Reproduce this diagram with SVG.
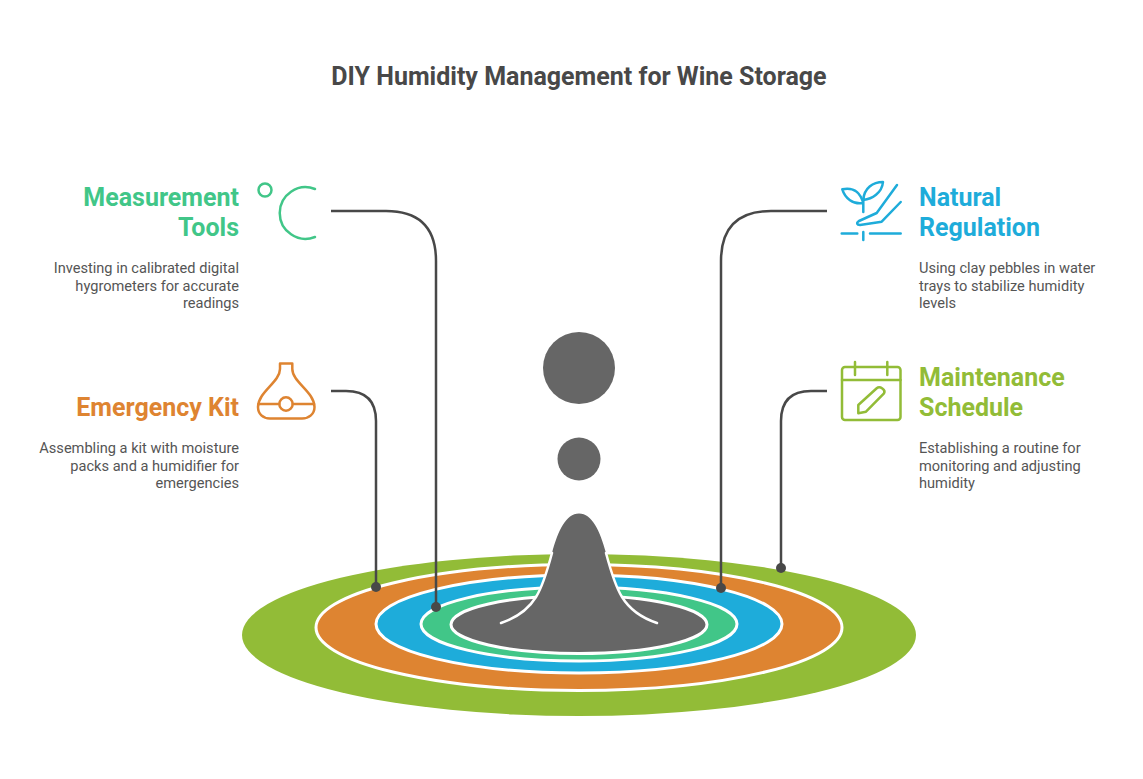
<svg xmlns="http://www.w3.org/2000/svg" width="1143" height="779" viewBox="0 0 1143 779">
<style>
text{font-family:Roboto,"Liberation Sans",sans-serif}
.t{font-size:25px;font-weight:700;fill:#484848}
.h{font-size:25px;font-weight:700}
.b{font-size:14.600px;fill:#555}
.e{text-anchor:end}
.c{fill:none;stroke:#484848;stroke-width:2.5}
.d{fill:#484848}
.i{fill:none;stroke-width:2.5;stroke-linecap:round;stroke-linejoin:round}
.r{stroke:#fff;stroke-width:3}
</style>
<rect width="1143" height="779" fill="#fff"/>
<text class="t" x="579" y="85" text-anchor="middle">DIY Humidity Management for Wine Storage</text>
<g id="rings">
<ellipse cx="579" cy="635" rx="337" ry="81" fill="#92bc37"/>
<ellipse class="r" cx="579" cy="627.500" rx="263" ry="63" fill="#de8431"/>
<ellipse class="r" cx="579" cy="624" rx="203" ry="49" fill="#1eacda"/>
<ellipse class="r" cx="579" cy="624" rx="158" ry="37" fill="#41c688"/>
<ellipse class="r" cx="579" cy="624.500" rx="128" ry="29" fill="#666"/>
</g>
<g id="drop">
<circle cx="579" cy="368" r="36" fill="#666"/>
<circle cx="579" cy="459" r="21.500" fill="#666"/>
<path d="M501 623C516 618 528 610 536 597C543 586 548 568 552 553C558 531 566 513.500 579 513.500C592 513.500 600 531 606 553C610 568 615 586 622 597C630 610 642 618 657 623Z" fill="#666"/>
<path d="M501 623C516 618 528 610 536 597C543 586 548 568 552 553M606 553C610 568 615 586 622 597C630 610 642 618 657 623" fill="none" stroke="#fff" stroke-width="2.500" stroke-linecap="round"/>
</g>
<g id="connectors">
<path class="c" d="M331 211H386Q436 211 436 261V607"/>
<circle class="d" cx="436" cy="607" r="5"/>
<path class="c" d="M827 211H771Q721 211 721 261V588"/>
<circle class="d" cx="721" cy="588" r="5"/>
<path class="c" d="M331 391H346Q376 391 376 421V587"/>
<circle class="d" cx="376" cy="587" r="5"/>
<path class="c" d="M827 391H811Q781 391 781 421V568"/>
<circle class="d" cx="781" cy="568" r="5"/>
</g>
<g id="measurement-tools">
<text class="h e" x="239" y="205.500" fill="#41c688">Measurement</text>
<text class="h e" x="239" y="235.500" fill="#41c688">Tools</text>
<text class="b e" x="239" y="273">Investing in calibrated digital</text>
<text class="b e" x="239" y="291">hygrometers for accurate</text>
<text class="b e" x="239" y="308">readings</text>
<g class="i" stroke="#41c688"><circle cx="265" cy="190" r="6.500"/><path d="M315 189A25.800 25.800 0 1 0 315 237"/></g>
</g>
<g id="natural-regulation">
<text class="h" x="919" y="205.500" fill="#1eacda">Natural</text>
<text class="h" x="919" y="235.500" fill="#1eacda">Regulation</text>
<text class="b" x="919" y="273">Using clay pebbles in water</text>
<text class="b" x="919" y="291">trays to stabilize humidity</text>
<text class="b" x="919" y="308">levels</text>
<g class="i" stroke="#1eacda">
<path d="M863.300 212V200M863.300 203C860 192 854 187 842.300 189.300C845 198 853 205 863.300 203"/>
<path d="M863.300 200C872 199 882 193 883 182C873 182 864 188 863.300 200"/>
<path d="M897 185L876.700 213L859 221C856 223 857 225 860 225L881.700 221.700L900.700 202"/>
<path d="M841.700 233.500H857.300M870 233.500H900.700M863.300 232V240"/>
</g>
</g>
<g id="emergency-kit">
<text class="h e" x="239" y="415.500" fill="#de8431">Emergency Kit</text>
<text class="b e" x="239" y="453">Assembling a kit with moisture</text>
<text class="b e" x="239" y="471">packs and a humidifier for</text>
<text class="b e" x="239" y="488">emergencies</text>
<g class="i" stroke="#de8431">
<path d="M280 363.500H292.300V369C292.300 382 314.500 392 314.500 407C314.500 414 309 418.500 302 418.500H270C263 418.500 258 414 258 407C258 392 280 382 280 369Z"/>
<circle cx="286" cy="404" r="6.700"/>
<path d="M258.500 404H279.300M292.700 404H314"/>
</g>
</g>
<g id="maintenance-schedule">
<text class="h" x="919" y="385.500" fill="#92bc37">Maintenance</text>
<text class="h" x="919" y="415.500" fill="#92bc37">Schedule</text>
<text class="b" x="919" y="453">Establishing a routine for</text>
<text class="b" x="919" y="471">monitoring and adjusting</text>
<text class="b" x="919" y="488">humidity</text>
<g class="i" stroke="#92bc37">
<rect x="842" y="367" width="58.500" height="53" rx="3"/>
<path d="M842 380H900.500M855 362V375M887.300 362V375"/>
<path d="M858.300 413.300V405L876.700 388.300C880 385.500 886 390 884 393.300L866 411.700Z"/>
</g>
</g>
</svg>
